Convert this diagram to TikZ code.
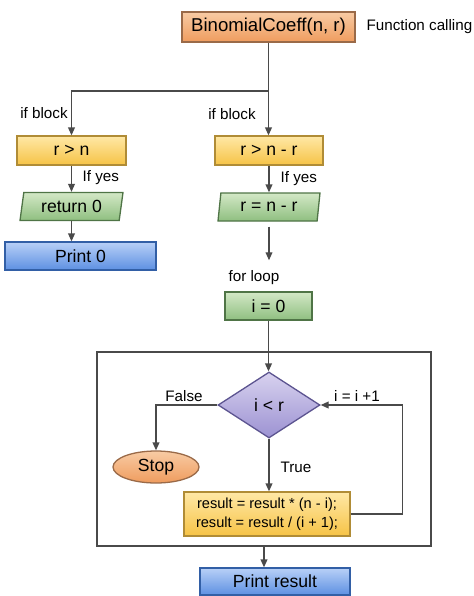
\documentclass[tikz,border=0pt]{standalone}
\usepackage{fontspec}
\setmainfont{Liberation Sans}
\usetikzlibrary{shapes.geometric,arrows.meta}
\definecolor{linegray}{HTML}{4A4A4A}
\definecolor{orangetop}{HTML}{F8CBA4}
\definecolor{orangebot}{HTML}{EF9C5E}
\definecolor{orangeline}{HTML}{9A6A48}
\definecolor{yellowtop}{HTML}{FFE8A6}
\definecolor{yellowbot}{HTML}{F6C346}
\definecolor{yellowline}{HTML}{B08C36}
\definecolor{greentop}{HTML}{D3E8C6}
\definecolor{greenbot}{HTML}{8FBF80}
\definecolor{greenline}{HTML}{4F7446}
\definecolor{bluetop}{HTML}{B8D0F7}
\definecolor{bluebot}{HTML}{5D90E2}
\definecolor{blueline}{HTML}{325FA6}
\definecolor{purpletop}{HTML}{D8D2EF}
\definecolor{purplebot}{HTML}{9C92D2}
\definecolor{purpleline}{HTML}{5C5490}

\begin{document}
\begin{tikzpicture}[x=0.5pt, y=-0.5pt, line width=0.65pt,
    font=\fontsize{8.8}{10.5}\selectfont,
    flow/.style={draw=linegray, -{Triangle[length=4pt,width=3.4pt]}},
    wire/.style={draw=linegray},
    tag/.style={font=\fontsize{7.6}{9}\selectfont, inner sep=1pt},
    orangebox/.style={rectangle, draw=orangeline, top color=orangetop, bottom color=orangebot, inner sep=0pt},
    yellowbox/.style={rectangle, draw=yellowline, top color=yellowtop, bottom color=yellowbot, inner sep=0pt},
    greenbox/.style={rectangle, draw=greenline, top color=greentop, bottom color=greenbot, inner sep=0pt},
    greenio/.style={trapezium, trapezium left angle=73, trapezium right angle=107,
      trapezium stretches body=true, draw=greenline, top color=greentop, bottom color=greenbot, inner sep=0pt},
    bluebox/.style={rectangle, draw=blueline, top color=bluetop, bottom color=bluebot, inner sep=0pt},
    test/.style={diamond, draw=purpleline, top color=purpletop, bottom color=purplebot, inner sep=0pt},
    endpoint/.style={ellipse, draw=orangeline, top color=orangetop, bottom color=orangebot, inner sep=0pt}]
  \useasboundingbox (0,0) rectangle (474,596);

  % function call
  \node[orangebox, minimum width=86.5pt, minimum height=15pt,
    font=\fontsize{9.3}{11}\selectfont] (coeff) at (268.5,27) {BinomialCoeff(n, r)};
  \node[tag, anchor=west] (calltag) at (364,27) {Function calling};
  \coordinate (split) at (268.5,91);

  % left branch: r > n
  \node[yellowbox, minimum width=54.5pt, minimum height=14.5pt] (rgn) at (71.5,150.5) {r > n};
  \node[greenio, minimum width=51.5pt, minimum height=14pt] (ret0) at (71.5,206.5) {return 0};
  \node[bluebox, minimum width=75.5pt, minimum height=14pt] (print0) at (80.5,256) {Print 0};
  \node[tag] (ifleft) at (44,113) {if block};
  \node[tag, anchor=west] (yesleft) at (80,178) {If yes};

  % right branch: r > n - r
  \node[yellowbox, minimum width=54pt, minimum height=14.5pt] (rnr) at (269,150.5) {r > n - r};
  \node[greenio, minimum width=51pt, minimum height=14pt] (rset) at (269,207) {r = n - r};
  \node[tag] (ifright) at (232,114) {if block};
  \node[tag, anchor=west] (yesright) at (278,179) {If yes};

  % for loop
  \node[tag] (fortag) at (254,278) {for loop};
  \node[greenbox, minimum width=43.5pt, minimum height=14pt] (init) at (268.5,306) {i = 0};
  \draw[wire] (97,352) rectangle (431,546);
  \node[inner sep=0pt, minimum width=167pt, minimum height=97pt] (frame) at (264,449) {};
  \node[test, minimum width=51pt, minimum height=33pt] (cond) at (269,405) {i < r};
  \node[endpoint, minimum width=43pt, minimum height=16pt] (stop) at (156,467) {Stop};
  \node[yellowbox, minimum width=83pt, minimum height=22pt, align=center,
    font=\fontsize{7.3}{9.6}\selectfont] (body) at (267,514) {result = result * (n - i);\\result = result / (i + 1);};
  \node[tag] (falsetag) at (184,396) {False};
  \node[tag, anchor=west] (truetag) at (278,467) {True};
  \node[tag] (steptag) at (357,396) {i = i +1};
  \node[bluebox, minimum width=75pt, minimum height=13.5pt] (printres) at (275,581.5) {Print result};

  % connectors
  \draw[flow] (coeff.south) -- (coeff.south |- rnr.north);
  \draw[flow] (split) -| (rgn.north);
  \draw[flow] (rgn) -- (ret0);
  \draw[flow] (ret0.south) -- (ret0.south |- print0.north);
  \draw[flow] (rnr.south) -- (rnr.south |- rset.north);
  \draw[flow, shorten <=2.5pt, shorten >=4pt] (rset.south) -- (rset.south |- fortag.north);
  \draw[flow] (init.south) -- (init.south |- cond.north);
  \draw[flow] (cond.west) -| (stop.north);
  \draw[flow] (cond.south) -- (cond.south |- body.north);
  \draw[flow] (body.east) -- ++(52,0) |- (cond.east);
  \draw[flow] (frame.south) -- (frame.south |- printres.north);
\end{tikzpicture}
\end{document}
